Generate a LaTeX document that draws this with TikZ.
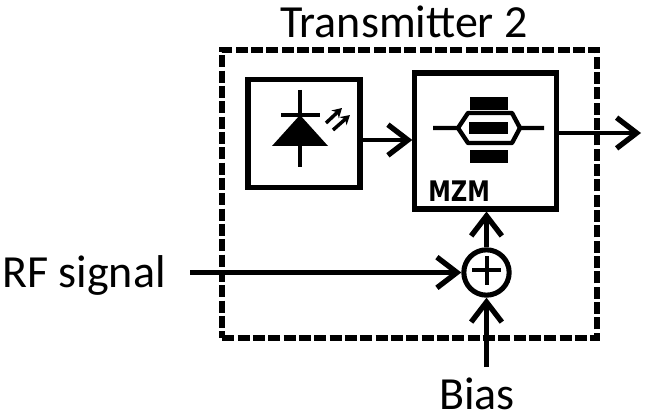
\documentclass[tikz,border=0pt]{standalone}
\usepackage{fontspec}
\setmainfont{Carlito}
\newfontfamily\mzmfont{DejaVu Sans}
\usetikzlibrary{arrows.meta}
\tikzset{
  px/.style={x=0.75pt,y=-0.75pt},
  blockbox/.style={draw=black,line width=3.8pt,fill=white,inner sep=0pt,minimum width=#1},
  conn/.style={draw=black,line width=3.6pt,-{Straight Barb[length=15pt,width=23pt,line width=4pt]}},
  label/.style={font=\fontsize{34.5}{34.5}\selectfont,inner sep=0pt,text=black},
  sym/.style={draw=black,line width=3.3pt},
}
\begin{document}
\begin{tikzpicture}[px]
\useasboundingbox (0,0) rectangle (649,416);
% dashed frame
\node[draw=black,line width=4.2pt,dash pattern=on 9pt off 2.5pt,inner sep=0pt,minimum width=281pt,minimum height=216pt] (frame) at (409.5,194) {};
% boxes
\node[blockbox=84pt,minimum height=81pt] (laser) at (304,133.5) {};
\node[blockbox=106pt,minimum height=102pt] (mzm) at (485.5,141) {};
\node[draw=black,line width=3.8pt,circle,fill=white,inner sep=0pt,minimum size=34pt] (sum) at (486.5,272.5) {};
% plus
\draw[line width=3pt] (472,270) -- (501,270) (487,256) -- (487,285);
% laser diode
\draw[sym] (300,90) -- (300,167);
\draw[sym] (281,115) -- (320,115);
\fill[black] (300,115) -- (328,146) -- (272,146) -- cycle;
\draw[black,line width=2.6pt,-{Stealth[length=7pt,width=8pt]}] (326,123) -- (342,108);
\draw[black,line width=2.6pt,-{Stealth[length=7pt,width=8pt]}] (333,130) -- (350,115);
% modulator
\draw[sym,line join=round] (433,128) -- (458,128) -- (468,113) -- (512,113) -- (520,128) -- (544,128);
\draw[sym,line join=round] (458,128) -- (468,143) -- (512,143) -- (520,128);
\fill[black] (470,97) rectangle (508,110);
\fill[black] (469,122) rectangle (508,134);
\fill[black] (470,150) rectangle (508,163);
\node[anchor=west,inner sep=0pt,font=\mzmfont\bfseries\fontsize{17}{17}\selectfont] (mzmlabel) at (428,191) {\scalebox{1}[1.25]{MZM}};
% texts
\node[label] (title) at (404,22) {Transmitter 2};
\node[label,anchor=west] (rf) at (2,275) {RF signal};
\node[label] (bias) at (477,394) {Bias};
% connectors
\coordinate (rfstart) at (190,272.5);
\coordinate (biasstart) at (486.5,367);
\coordinate (outend) at (641,133);
\draw[conn] (laser.east |- 0,140) -- (mzm.west |- 0,140);
\draw[conn] (mzm.east |- outend) -- (outend);
\draw[conn] (rfstart) -- (sum.west);
\draw[conn] (biasstart) -- (sum.south);
\draw[conn] (sum.north) -- (mzm.south -| sum.north);
\end{tikzpicture}
\end{document}
